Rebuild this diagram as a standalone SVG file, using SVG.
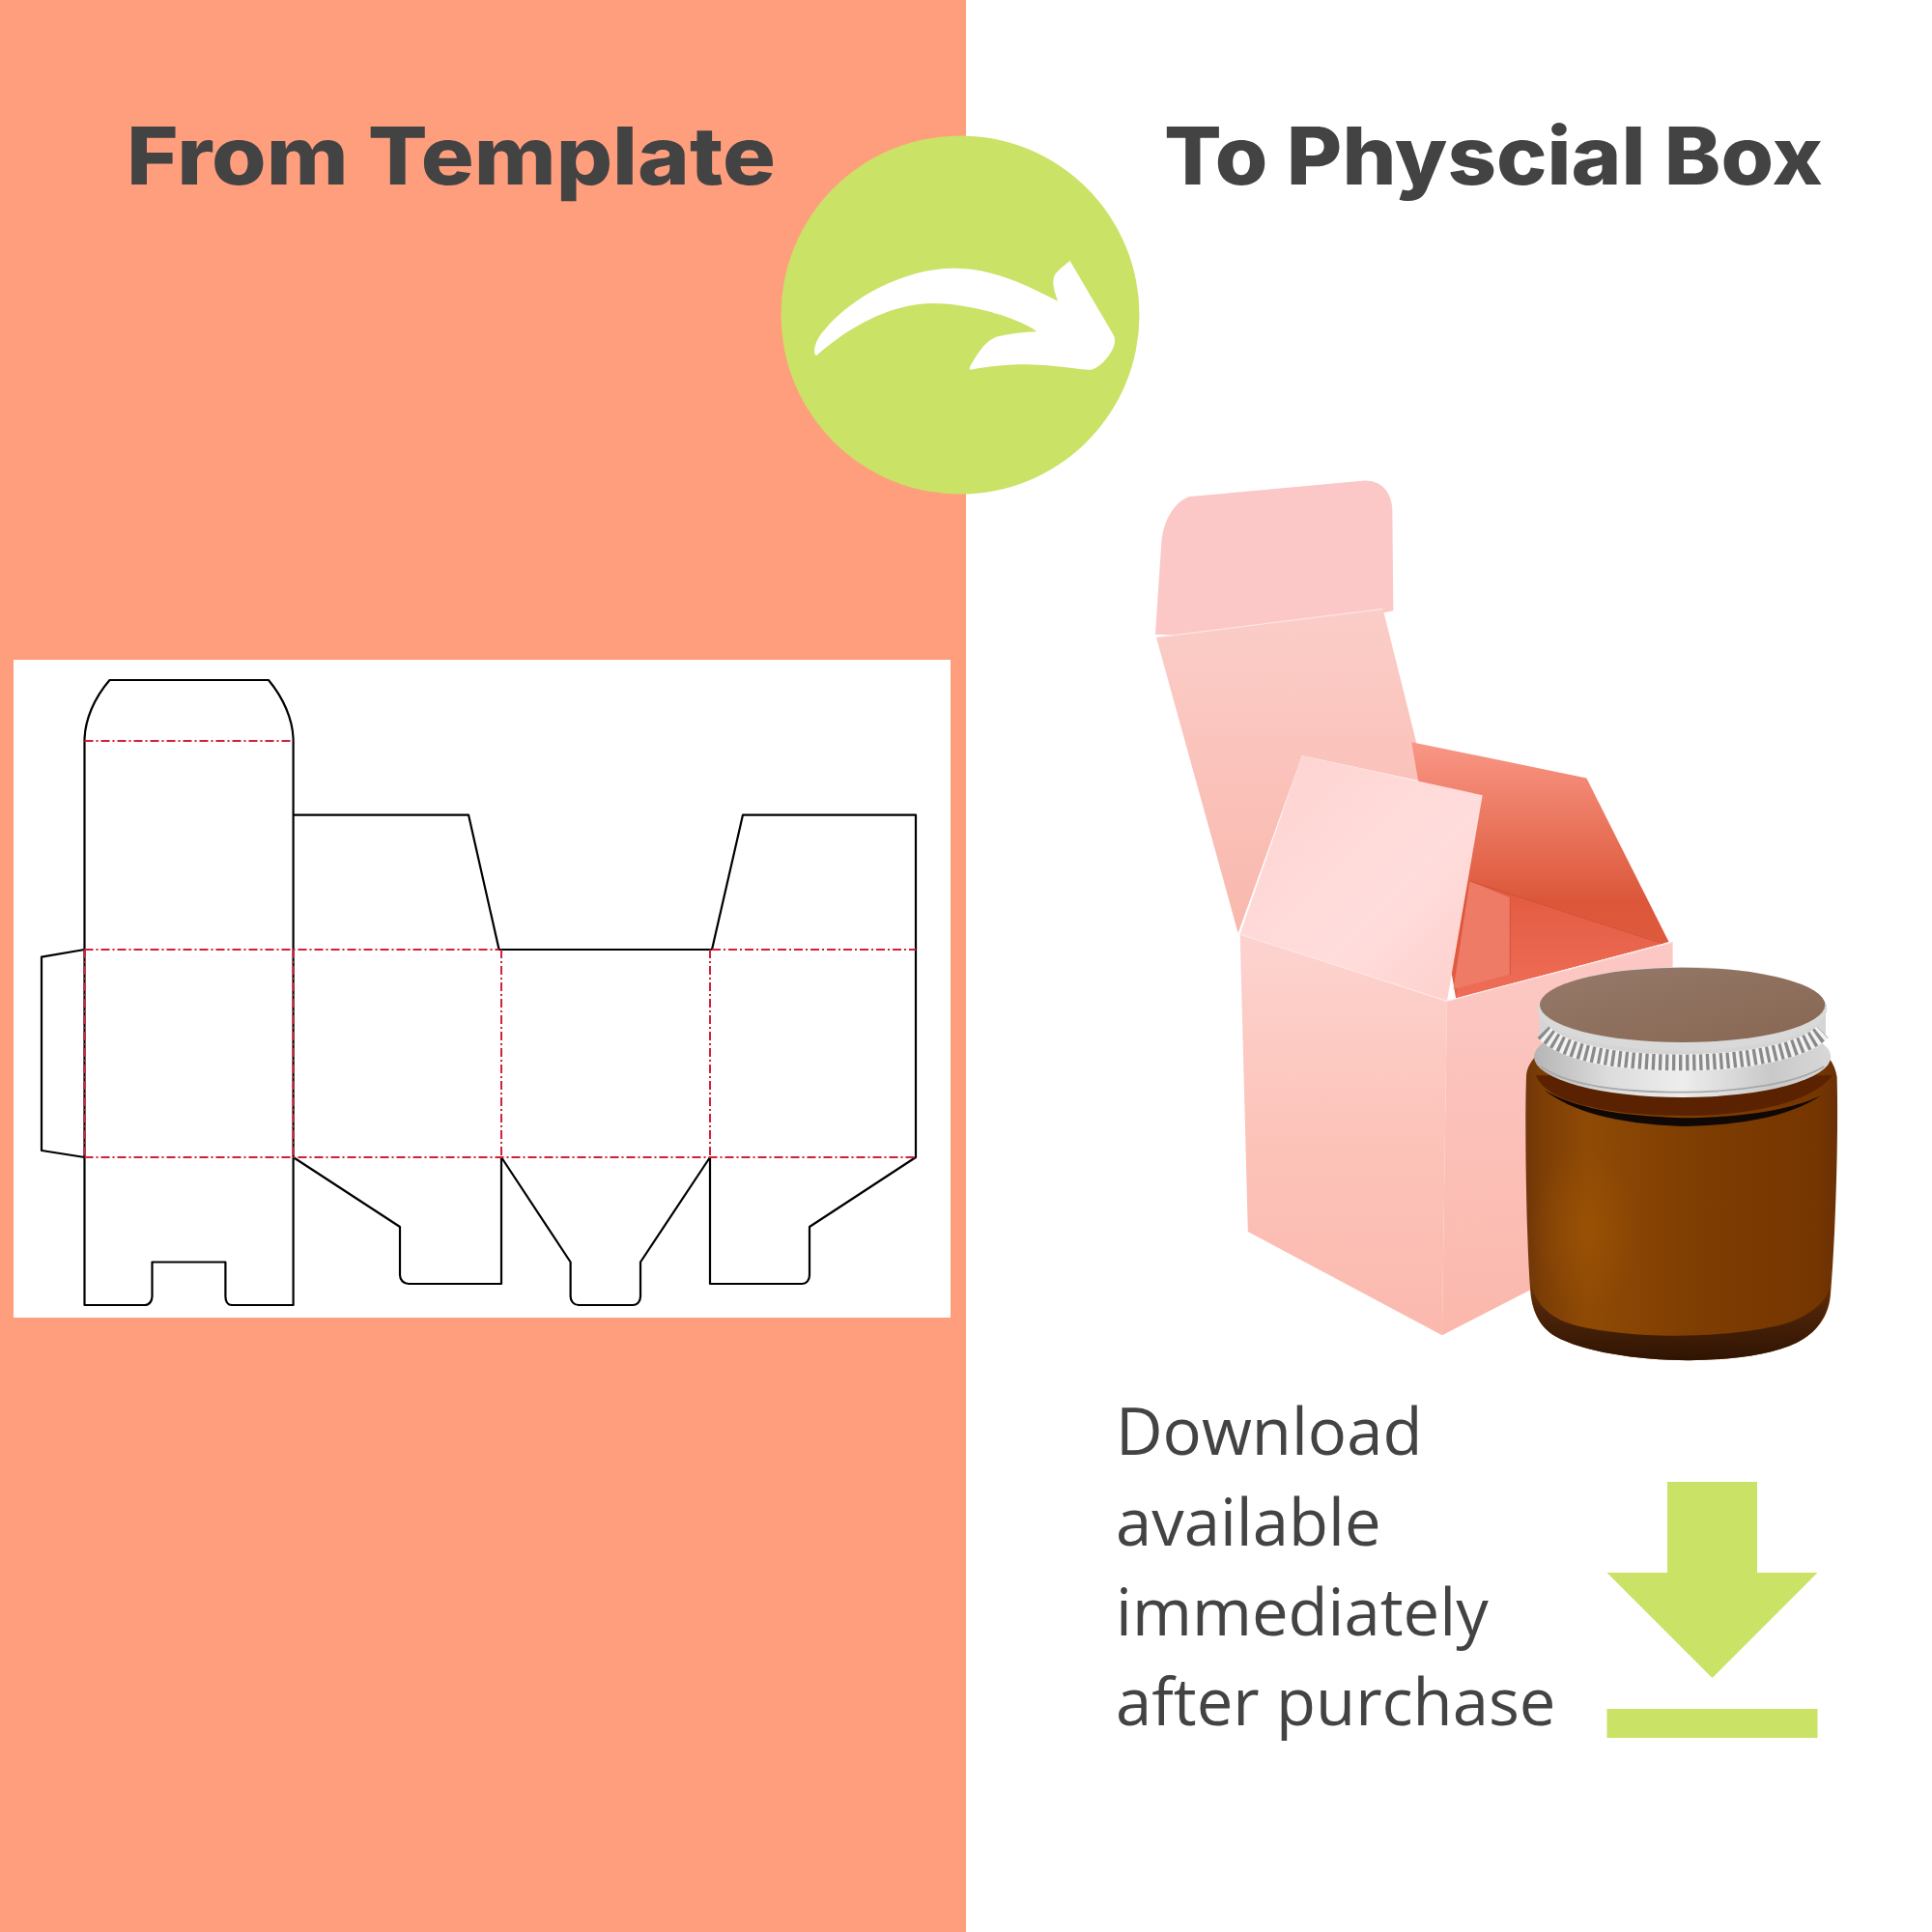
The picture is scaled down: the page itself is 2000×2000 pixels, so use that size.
<svg xmlns="http://www.w3.org/2000/svg" width="2000" height="2000" viewBox="0 0 2000 2000">
<style>
.title{font-family:"Inter","Liberation Sans",sans-serif;font-weight:850;font-size:83px;fill:#434343}
.body{font-family:"Open Sans","Liberation Sans",sans-serif;font-size:67px;fill:#434343}
.cut{fill:none;stroke:#000;stroke-width:2.200;stroke-linejoin:round}
.fold{fill:none;stroke:#d3203a;stroke-width:2;stroke-dasharray:9 3 2 3}
.green{fill:#cae266}
</style>
<defs>
<linearGradient id="gLeft" x1="0" y1="0" x2="0" y2="1"><stop offset="0" stop-color="#fdd3cf"/><stop offset=".55" stop-color="#fcc2b8"/><stop offset="1" stop-color="#fbb9ae"/></linearGradient>
<linearGradient id="gRight" x1="0" y1="0" x2="0" y2="1"><stop offset="0" stop-color="#fcc8c4"/><stop offset="1" stop-color="#fbb8ac"/></linearGradient>
<linearGradient id="gFlap" x1="0" y1="0" x2="1" y2="1"><stop offset="0" stop-color="#fdd3d0"/><stop offset=".6" stop-color="#ffdddc"/><stop offset="1" stop-color="#fdcfcb"/></linearGradient>
<linearGradient id="gLid" x1="0" y1="0" x2="0" y2="1"><stop offset="0" stop-color="#fbcdc8"/><stop offset="1" stop-color="#f9b8ad"/></linearGradient>
<linearGradient id="gIn" x1="0" y1="0" x2="0" y2="1"><stop offset="0" stop-color="#f99786"/><stop offset=".62" stop-color="#dc5739"/><stop offset="1" stop-color="#e45c40"/></linearGradient>
<linearGradient id="gIn2" x1="0" y1="0" x2="0" y2="1"><stop offset="0" stop-color="#e25a3f"/><stop offset="1" stop-color="#ef6d58"/></linearGradient>
<linearGradient id="gGlass" x1="0" y1="0" x2="1" y2="0"><stop offset="0" stop-color="#70360a"/><stop offset=".05" stop-color="#7c3e06"/><stop offset=".2" stop-color="#8f4a05"/><stop offset=".55" stop-color="#7e3d02"/><stop offset=".93" stop-color="#763600"/><stop offset="1" stop-color="#6a3006"/></linearGradient>
<radialGradient id="gGlow" cx=".5" cy=".5" r=".5"><stop offset="0" stop-color="#a85a05" stop-opacity=".45"/><stop offset="1" stop-color="#a85a05" stop-opacity="0"/></radialGradient>
<linearGradient id="gBase" x1="0" y1="0" x2="0" y2="1"><stop offset="0" stop-color="#3a1802" stop-opacity="0"/><stop offset=".4" stop-color="#46200a" stop-opacity=".9"/><stop offset="1" stop-color="#2f1402"/></linearGradient>
<linearGradient id="gSilver" x1="0" y1="0" x2="1" y2="0"><stop offset="0" stop-color="#b5b5b5"/><stop offset=".25" stop-color="#dcdcdc"/><stop offset=".5" stop-color="#ededed"/><stop offset=".8" stop-color="#c9c9c9"/><stop offset="1" stop-color="#d8d8d8"/></linearGradient>
<linearGradient id="gTop" x1="0" y1="0" x2="1" y2="1"><stop offset="0" stop-color="#96796a"/><stop offset="1" stop-color="#876752"/></linearGradient>
</defs>
<rect width="2000" height="2000" fill="#fff"/>
<rect id="left-panel" width="1000" height="2000" fill="#ff9e7d"/>
<g id="titles">
<text class="title" x="131" y="191" textLength="672" lengthAdjust="spacingAndGlyphs">From Template</text>
<text class="title" x="1205" y="191" textLength="682" lengthAdjust="spacingAndGlyphs">To Physcial Box</text>
</g>
<g id="arrow-badge">
<circle cx="994" cy="326" r="185.500" class="green"/>
<path transform="translate(790 120) scale(.3333)" fill="#fff" d="M165 745C150 735 165 690 190 665C270 565 440 473 590 473C700 472 800 515 915 575C905 545 895 520 905 495C915 480 935 465 953 450L1085 675C1095 690 1095 705 1085 725C1070 755 1045 780 1020 788C1000 792 900 770 790 772C740 773 690 780 645 788C635 788 645 775 650 765C670 730 695 695 730 685C770 675 810 672 850 670C800 630 640 580 520 582C390 585 260 660 165 745Z"/>
</g>
<g id="template">
<rect x="14" y="683" width="970" height="681" fill="#fff"/>
<path class="cut" d="M87.500 767C87.500 745 98 722 113.500 704H278C293 722 303.600 745 303.600 767V1351H240C235 1351 233.400 1346 233.400 1342V1306.500H157.500V1342C157.500 1346 155 1351 150 1351H87.500Z"/>
<path class="cut" d="M87.500 983L43 990.600V1191L87.500 1198"/>
<path class="cut" d="M303.600 843.600H485L516.600 983H737L769 843.600H948V1198L838 1270V1320C838 1325 835 1329 830 1329H735V1198L663 1306.500V1342C663 1347 660 1351 655 1351H599C594 1351 590.600 1347 590.600 1342V1306.500L519 1198V1329H423C418 1329 414 1325 414 1320V1270L303.600 1198"/>
<path class="fold" d="M87.500 767H303.600M87.500 983H516.600M737 983H948M87.500 1198H948M87.500 983V1198M303.600 983V1198M519 983V1198M735 983V1198"/>
</g>
<g id="box" transform="translate(1150 470) scale(.5102 .6122)">
<path fill="#fbc8c7" d="M90 305L103 145C108 110 130 80 160 72L515 45C550 45 570 65 571 95L573 265L300 310Z"/>
<path fill="url(#gLid)" d="M92 310L552 262L640 555L388 510L258 810Z"/>
<path fill="none" stroke="#fde4e2" stroke-width="2" d="M92 310L552 262"/>
<path fill="url(#gIn)" d="M610 487L965 548L1132 825L700 920Z"/>
<path fill="url(#gIn2)" d="M728 722L1122 827L700 920Z"/>
<path fill="#ee7b66" d="M728 722L810 750L810 880L695 905Z"/>
<path fill="none" stroke="#c84f36" stroke-width="1.500" d="M728 722L1120 828M810 750V880"/>
<path fill="url(#gFlap)" d="M388 510L754 577L682 925L262 812Z"/>
<path fill="url(#gLeft)" d="M262 812L682 925L672 1490L278 1315Z"/>
<path fill="url(#gRight)" d="M682 925L1140 825V1290L672 1490Z"/>
<path fill="none" stroke="#ffe6e3" stroke-width="2" d="M262 812L682 925L1140 825"/>
</g>
<g id="jar" transform="translate(1560 980) scale(.3333)">
<path fill="url(#gGlass)" d="M85 345C68 365 60 385 60 405C55 550 60 900 72 1060C75 1130 100 1180 150 1210C300 1295 720 1315 900 1230C960 1200 1000 1150 1005 1080C1020 900 1030 600 1025 405C1022 385 1015 365 1000 345Z"/>
<ellipse cx="240" cy="880" rx="170" ry="260" fill="url(#gGlow)"/>
<path fill="url(#gBase)" d="M72 1040C75 1130 100 1180 150 1210C300 1295 720 1315 900 1230C960 1200 1000 1150 1005 1060C980 1120 920 1155 860 1172C650 1225 350 1215 200 1172C130 1150 90 1110 72 1040Z"/>
<path fill="#5a2200" d="M90 400C120 480 300 525 545 525C800 525 960 470 1010 400Z"/>
<path fill="#100805" d="M115 445C200 510 330 550 545 558C760 555 900 515 975 462C900 500 760 530 545 532C340 525 210 500 115 445Z"/>
<ellipse cx="545" cy="342" rx="461" ry="126" fill="url(#gSilver)"/>
<path fill="none" stroke="#a8a8a8" stroke-width="5" d="M105 372C200 440 400 452 545 452C720 452 900 425 985 372"/>
<path fill="#d5d5d5" d="M100 205V270C130 345 350 385 545 385C750 385 950 340 990 270V205Z"/>
<path fill="none" stroke="#f2f2f2" stroke-width="52" d="M112 265C180 335 360 360 545 360C740 360 920 325 980 265"/>
<path fill="none" stroke="#8a8a8a" stroke-width="50" stroke-dasharray="10 11" d="M112 265C180 335 360 360 545 360C740 360 920 325 980 265"/>
<ellipse cx="545" cy="193" rx="449" ry="130" fill="#d9d9d9"/>
<ellipse cx="545" cy="181" rx="443" ry="116" fill="url(#gTop)"/>
</g>
<g id="download-text">
<text class="body" x="1155" y="1506">Download</text>
<text class="body" x="1155" y="1599.500">available</text>
<text class="body" x="1155" y="1693">immediately</text>
<text class="body" x="1155" y="1786">after purchase</text>
</g>
<g id="download-icon" class="green">
<path d="M1726 1534H1819V1628H1881.500L1772.500 1737L1663.500 1628H1726Z"/>
<rect x="1663.500" y="1769" width="218" height="30"/>
</g>
</svg>
